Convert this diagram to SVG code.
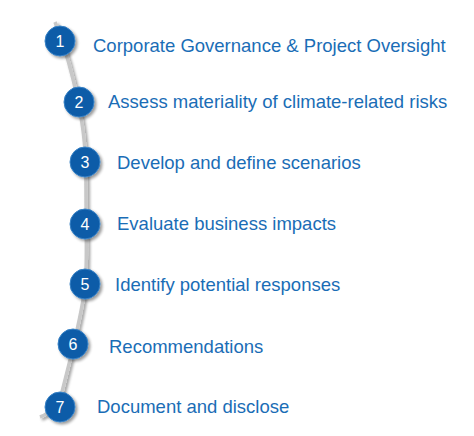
<svg xmlns="http://www.w3.org/2000/svg" width="474" height="436" viewBox="0 0 474 436">
<style>
.lbl{font-family:"Liberation Sans",Arial,sans-serif;font-size:18.5px;fill:#1a6db6}
.num{font-family:"Liberation Sans",Arial,sans-serif;font-size:16px;fill:#ffffff;text-anchor:middle}
.dot{fill:#0b5ca8;stroke:#3a82c6;stroke-width:1}
</style>
<defs>
<filter id="sh" x="-50%" y="-50%" width="200%" height="200%">
<feGaussianBlur in="SourceAlpha" stdDeviation="1.5"/>
<feOffset dx="2" dy="2" result="b"/>
<feComponentTransfer><feFuncA type="linear" slope="0.4"/></feComponentTransfer>
<feMerge><feMergeNode/><feMergeNode in="SourceGraphic"/></feMerge>
</filter>
</defs>
<rect width="474" height="436" fill="#ffffff"/>
<g id="connectors">
<path d="M55,22 C62,40 72,70 78,102 C84,130 86,150 86,190 C86,240 88,270 83,300 C78,330 70,360 62,392 C56,408 48,414 40,417" fill="none" stroke="#c8c8c8" stroke-width="3.5" filter="url(#sh)"/>
</g>
<g id="node1"><circle class="dot" cx="60" cy="41" r="15" filter="url(#sh)"/><text class="num" x="60" y="47">1</text><text class="lbl" x="93" y="52">Corporate Governance &amp; Project Oversight</text></g>
<g id="node2"><circle class="dot" cx="79" cy="102" r="15" filter="url(#sh)"/><text class="num" x="79" y="108">2</text><text class="lbl" x="108" y="108">Assess materiality of climate-related risks</text></g>
<g id="node3"><circle class="dot" cx="85" cy="162" r="15" filter="url(#sh)"/><text class="num" x="85" y="168">3</text><text class="lbl" x="117" y="169">Develop and define scenarios</text></g>
<g id="node4"><circle class="dot" cx="85" cy="224" r="15" filter="url(#sh)"/><text class="num" x="85" y="230">4</text><text class="lbl" x="117" y="230">Evaluate business impacts</text></g>
<g id="node5"><circle class="dot" cx="85" cy="284" r="15" filter="url(#sh)"/><text class="num" x="85" y="290">5</text><text class="lbl" x="115" y="291">Identify potential responses</text></g>
<g id="node6"><circle class="dot" cx="73" cy="344" r="15" filter="url(#sh)"/><text class="num" x="73" y="350">6</text><text class="lbl" x="109" y="353">Recommendations</text></g>
<g id="node7"><circle class="dot" cx="60" cy="407" r="15" filter="url(#sh)"/><text class="num" x="60" y="413">7</text><text class="lbl" x="97" y="413">Document and disclose</text></g>
</svg>
